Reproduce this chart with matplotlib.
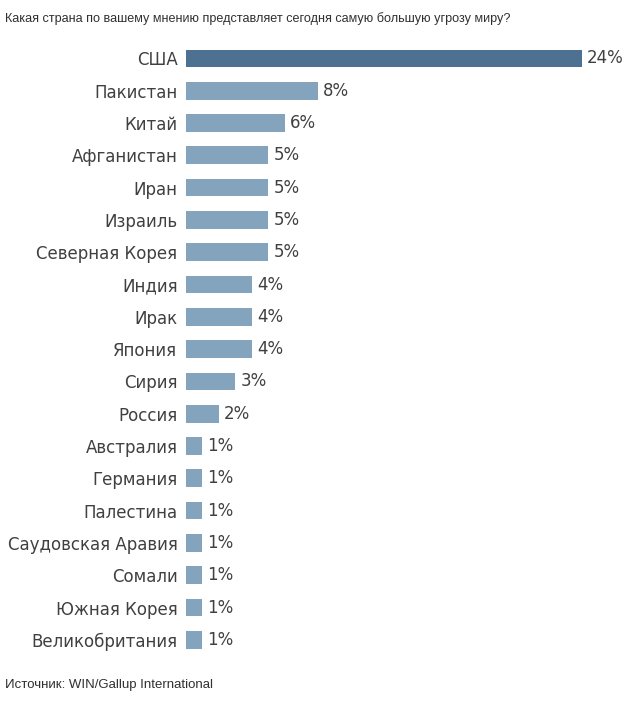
import matplotlib
matplotlib.use("Agg")
import matplotlib.pyplot as plt

countries = ["США","Пакистан","Китай","Афганистан","Иран","Израиль","Северная Корея","Индия","Ирак","Япония","Сирия","Россия","Австралия","Германия","Палестина","Саудовская Аравия","Сомали","Южная Корея","Великобритания"]
values = [24,8,6,5,5,5,5,4,4,4,3,2,1,1,1,1,1,1,1]
labels = [f"{v}%" for v in values]

fig = plt.figure(figsize=(6.3,7.03), dpi=100)
ax = fig.add_axes([0.295,0.0669,0.629,0.873])
y = list(range(len(values)))
colors = ["#4d7291"] + ["#84a3bd"]*(len(values)-1)
ax.barh(y, values, height=0.55, color=colors)
ax.set_ylim(len(values)-0.5, -0.5)
ax.set_xlim(0,24)
ax.set_yticks(y)
ax.set_yticklabels(countries, fontsize=12, color="#404040")
ax.tick_params(axis="y", length=0, pad=6)
ax.set_xticks([])
for s in ax.spines.values():
    s.set_visible(False)
for yi,v,l in zip(y,values,labels):
    ax.text(v+0.3, yi, l, va="center", ha="left", fontsize=12, color="#404040", clip_on=False)
fig.text(0.008, 0.983, "Какая страна по вашему мнению представляет сегодня самую большую угрозу миру?",
         fontsize=9.1, color="#303030", va="top", ha="left", family=["Liberation Sans","DejaVu Sans"])
fig.text(0.008, 0.025, "Источник: WIN/Gallup International", fontsize=9.5, color="#303030",
         va="center", ha="left", family=["Liberation Sans","DejaVu Sans"])
fig.savefig("out.png", dpi=100, facecolor="white")
